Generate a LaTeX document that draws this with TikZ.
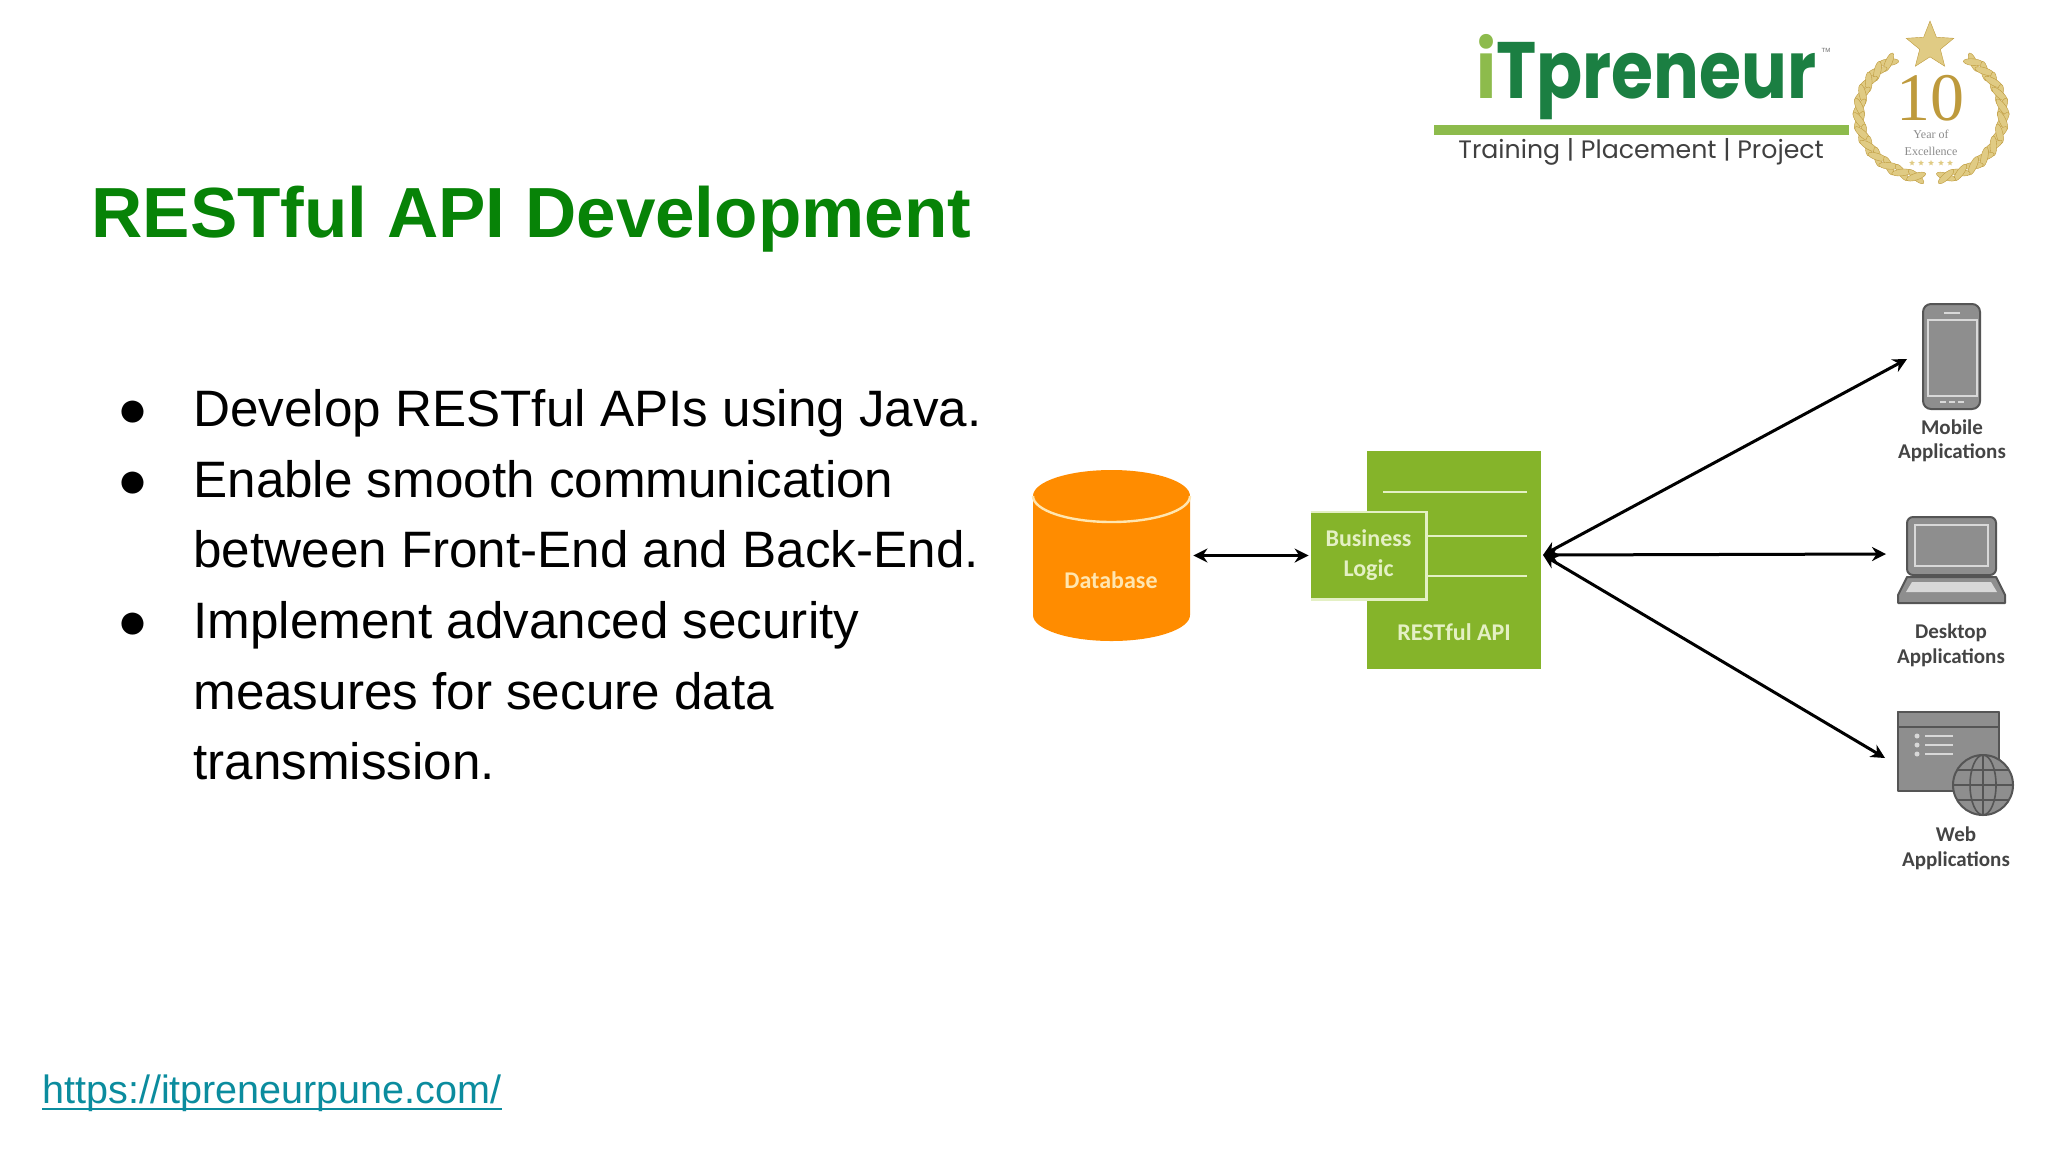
\documentclass[tikz,border=0pt]{standalone}
\usepackage{fontspec}
\usepackage{graphicx}
\setmainfont{Liberation Sans}
\newfontfamily\iconfont{Carlito}
\newfontfamily\logofont{Poppins}
\newfontfamily\badgefont{Liberation Serif}
\usetikzlibrary{calc,arrows.meta,shapes.geometric}
\definecolor{titleg}{HTML}{078307}
\definecolor{link}{HTML}{0B8C9E}
\definecolor{apig}{HTML}{85B42A}
\definecolor{apil}{HTML}{E4F0C4}
\definecolor{dbo}{HTML}{FF8C00}
\definecolor{dbl}{HTML}{FFE6B0}
\definecolor{icong}{HTML}{8E8E8E}
\definecolor{iconl}{HTML}{D8D8D8}
\definecolor{icond}{HTML}{555555}
\definecolor{logod}{HTML}{1B7F42}
\definecolor{logol}{HTML}{8DBB4C}
\definecolor{gold}{HTML}{E0CB84}
\definecolor{goldd}{HTML}{BE9A3C}
\tikzset{
  txt/.style={anchor=base west, inner sep=0pt, text=black, font=\fontsize{25.6}{30}\selectfont},
  api/.style={fill=apig, draw=none, inner sep=0pt},
  apiln/.style={draw=apil, line width=1.1pt},
  apit/.style={text=apil, inner sep=0pt, font=\iconfont\bfseries\fontsize{12}{14}\selectfont},
  arr/.style={draw=black, line width=1.5pt, {Stealth[length=7pt,width=7pt]}-{Stealth[length=7pt,width=7pt]}},
  icon/.style={fill=icong, draw=icond, line width=1pt, line join=round},
  inn/.style={draw=iconl, line width=0.9pt},
  lab/.style={text=icond!80!black, inner sep=0pt, font=\iconfont\bfseries\fontsize{10.5}{12}\selectfont},
  leaf/.style={fill=gold, draw=goldd, line width=0.2pt},
}
\begin{document}
\begin{tikzpicture}[x=0.5pt,y=-0.5pt]
  \useasboundingbox (0,0) rectangle (2048,1152);
  \fill[white] (0,0) rectangle (2048,1152);
  \node[anchor=base west,inner sep=0pt,text=titleg,font=\bfseries\fontsize{35.5}{40}\selectfont] (title) at (91,237) {RESTful API Development};
  \foreach \Y/\T [count=\i] in {426/Develop RESTful APIs using Java.,497/Enable smooth communication,567/between Front-End and Back-End.,638/Implement advanced security,709/measures for secure data,779/transmission.}
    \node[txt] (line\i) at (193,\Y) {\T};
  \foreach \Y [count=\i] in {426,497,638}
    \node[txt] (blt\i) at (117,\Y) {●};
  \node[anchor=base west,inner sep=0pt,text=link,font=\fontsize{19.76}{24}\selectfont] (url) at (42,1103) {https://itpreneurpune.com/};
  \draw[draw=link,line width=1.1pt] ($(url.base west)+(0,6)$) -- ($(url.base east)+(0,6)$);

  \node[inner sep=0pt,minimum width=78.5pt,minimum height=85.5pt] (db) at (1111.5,555.5) {};
  \fill[dbo] (1033,496) arc (180:360:78.5 and 26) -- (1190,615) arc (0:180:78.5 and 26) -- cycle;
  \draw[draw=dbl,line width=1.2pt] (1033,496) arc (180:0:78.5 and 26);
  \node[apit,text=dbl] (dbt) at (1111,580) {Database};

  \node[api,minimum width=87pt,minimum height=109pt] (rest) at (1454,560) {};
  \draw[apiln] (1383,492) -- (1527,492);
  \draw[apiln] (1426,536) -- (1527,536);
  \draw[apiln] (1426,576) -- (1527,576);
  \node[api,minimum width=57.5pt,minimum height=43.5pt,align=center,apit,font=\iconfont\bfseries\fontsize{12}{15}\selectfont] (logic) at (1368.5,555.5) {Business\\Logic};
  \draw[apiln] (logic.north west) -- (logic.north east) -- (logic.south east) -- (logic.south west);
  \node[apit] (restt) at (1454,632) {RESTful API};
  \draw[arr] ($(db.east |- logic.west)+(3,0)$) -- ($(logic.west)+(-2,0)$);

  \coordinate (hub) at (1543,555);
  \coordinate (mob) at (1907,359);
  \coordinate (dsk) at (1886,554);
  \coordinate (web) at (1885,758);
  \foreach \X in {mob,dsk,web}
    \draw[arr] (hub) -- (\X);

  \draw[icon,rounded corners=4pt] (1923,304) rectangle (1980,409);
  \draw[inn] (1928,320) rectangle (1977,396);
  \draw[inn] (1944,313) -- (1960,313);
  \draw[inn,dash pattern=on 3pt off 1.5pt] (1940,402) -- (1964,402);
  \node[lab] (mobt1) at (1952,427) {Mobile};
  \node[lab] (mobt2) at (1952,453) {Applications};

  \draw[icon,rounded corners=3pt] (1907,517) rectangle (1996,575);
  \draw[inn] (1915,525) rectangle (1988,566);
  \draw[icon] (1907,577) -- (1898,595) -- (1898,603) -- (2005,603) -- (2005,595) -- (1996,577) -- cycle;
  \fill[iconl] (1912,582) -- (1906,592) -- (1997,592) -- (1991,582) -- cycle;
  \node[lab] (dskt1) at (1951,633) {Desktop};
  \node[lab] (dskt2) at (1951,658) {Applications};

  \draw[icon] (1898,712) rectangle (1999,791);
  \draw[icon] (1898,712) rectangle (1999,727);
  \foreach \Y in {736,745,754} {
    \fill[iconl] (1917,\Y) circle (2.5);
    \draw[inn] (1925,\Y) -- (1953,\Y);
  }
  \draw[icon] (1983,785) circle (30);
  \draw[draw=icond,line width=0.8pt] (1983,785) ellipse (13 and 30);
  \draw[draw=icond,line width=0.8pt] (1983,755) -- (1983,815);
  \draw[draw=icond,line width=0.8pt] (1953,785) -- (2013,785);
  \draw[draw=icond,line width=0.8pt] (1958,770) -- (2008,770);
  \draw[draw=icond,line width=0.8pt] (1958,800) -- (2008,800);
  \node[lab] (webt1) at (1956,834) {Web};
  \node[lab] (webt2) at (1956,861) {Applications};

  \node[anchor=base west,inner sep=0pt,text=logod,font=\logofont\bfseries\fontsize{40}{44}\selectfont] (brand) at (1476,98) {\scalebox{0.85}[1]{\textcolor{logol}{i}Tpreneur}};
  \node[inner sep=0pt,text=black!60,font=\fontsize{3}{4}\selectfont] (tm) at (1826,50) {TM};
  \fill[logol] (1434,125) rectangle (1849,135);
  \node[anchor=base west,inner sep=0pt,text=black!75,font=\logofont\fontsize{12.6}{15}\selectfont] (slogan) at (1458,158) {Training | Placement | Project};

  \foreach \A in {-54,-42,...,84} {
    \fill[leaf,shift={(1931,114)},shift={(\A:72 and 64)},rotate=-\A+60] (0,0) ellipse (10 and 3.4);
    \fill[leaf,shift={(1931,114)},shift={(\A:72 and 64)},rotate=-\A+120] (0,0) ellipse (10 and 3.4);
    \fill[leaf,shift={(1931,114)},shift={(180-\A:72 and 64)},rotate=\A+60] (0,0) ellipse (10 and 3.4);
    \fill[leaf,shift={(1931,114)},shift={(180-\A:72 and 64)},rotate=\A+120] (0,0) ellipse (10 and 3.4);
  }
  \node[star,star points=5,star point ratio=2.3,fill=gold,draw=goldd,line width=0.2pt,minimum size=25pt,inner sep=0pt] (starb) at (1930,46) {};
  \node[inner sep=0pt,text=goldd,font=\badgefont\fontsize{34}{38}\selectfont] (ten) at (1930,98) {10};
  \node[inner sep=0pt,text=black!45,font=\badgefont\fontsize{6}{7}\selectfont] (yr) at (1931,134) {Year of};
  \node[inner sep=0pt,text=black!45,font=\badgefont\fontsize{6}{7}\selectfont] (exc) at (1931,151) {Excellence};
  \foreach \X in {1912,1921,1931,1941,1950}
    \node[star,star points=5,star point ratio=2.3,fill=gold,draw=none,minimum size=3pt,inner sep=0pt] (st\X) at (\X,163) {};
\end{tikzpicture}
\end{document}
